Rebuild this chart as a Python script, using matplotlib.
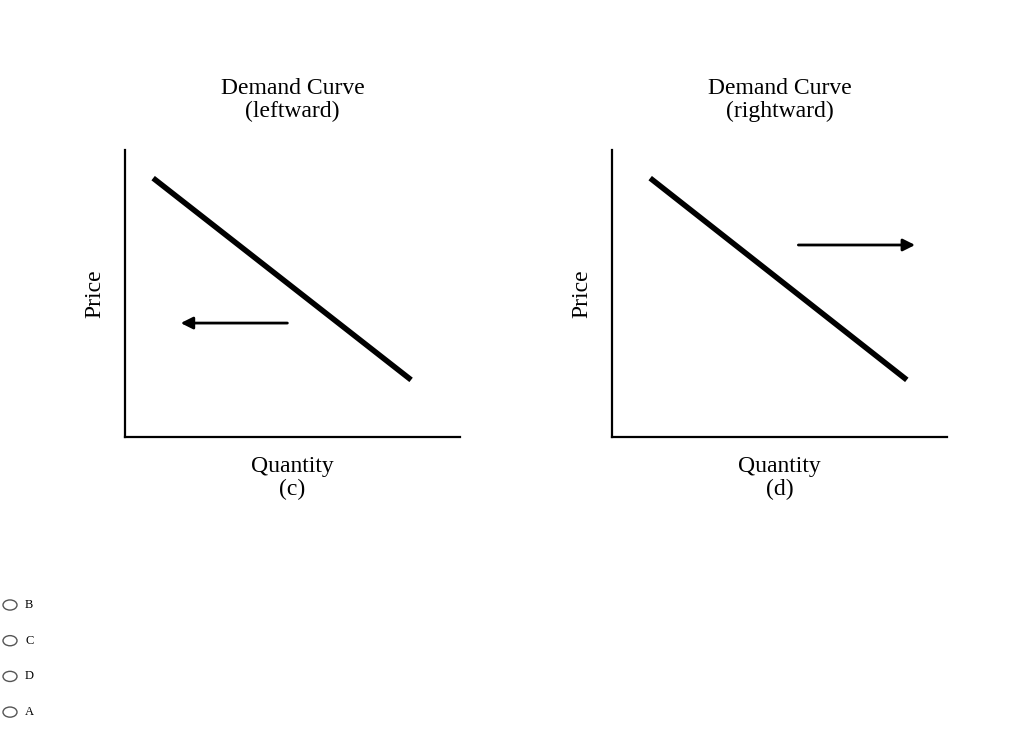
import matplotlib
matplotlib.use("Agg")
import matplotlib.pyplot as plt
from matplotlib.patches import Circle

plt.rcParams['font.family'] = ['Liberation Serif', 'DejaVu Serif']

titles = ["Demand Curve\n(leftward)", "Demand Curve\n(rightward)"]
xlabels = ["Quantity\n(c)", "Quantity\n(d)"]
# demand line end points (x, y) in 0-10 units
lines_x = [[0.84, 8.54], [1.14, 8.80]]
lines_y = [[9.02, 1.99], [9.02, 1.99]]
# shift arrows: start x, end x, y
arrows = [(4.93, 1.58, 3.97), (5.48, 9.13, 6.69)]
options = ["B", "C", "D", "A"]

W, H = 1024, 741
fig = plt.figure(figsize=(W / 100, H / 100), dpi=100)

lefts = [125, 612]
for i in range(2):
    ax = fig.add_axes([lefts[i] / W, 1 - 437 / H, 335 / W, 287 / H])
    ax.set_xlim(0, 10)
    ax.set_ylim(0, 10)
    for s in ["top", "right"]:
        ax.spines[s].set_visible(False)
    for s in ["left", "bottom"]:
        ax.spines[s].set_linewidth(1.6)
    ax.set_xticks([])
    ax.set_yticks([])
    ax.plot(lines_x[i], lines_y[i], color="black", lw=4, solid_capstyle="butt")
    x0, x1, y = arrows[i]
    ax.annotate("", xy=(x1, y), xytext=(x0, y),
                arrowprops=dict(arrowstyle="-|>", color="black", lw=2,
                                mutation_scale=18))
    ax.set_title(titles[i], fontsize=17, pad=62 / 1.39 * 0 + 24, linespacing=1.1)
    ax.set_xlabel(xlabels[i], fontsize=17, labelpad=14, linespacing=1.1)
    ax.set_ylabel("Price", fontsize=17, labelpad=14)

for k, opt in enumerate(options):
    py = 605 + k * 35.7
    fig.patches.append(Circle((10 / W, 1 - py / H), 7 / W, transform=fig.transFigure,
                              fill=False, ec="#555555", lw=1))
    fig.text(25 / W, 1 - py / H, opt, fontsize=9, va="center", ha="left")

fig.savefig("out.png", dpi=100)
